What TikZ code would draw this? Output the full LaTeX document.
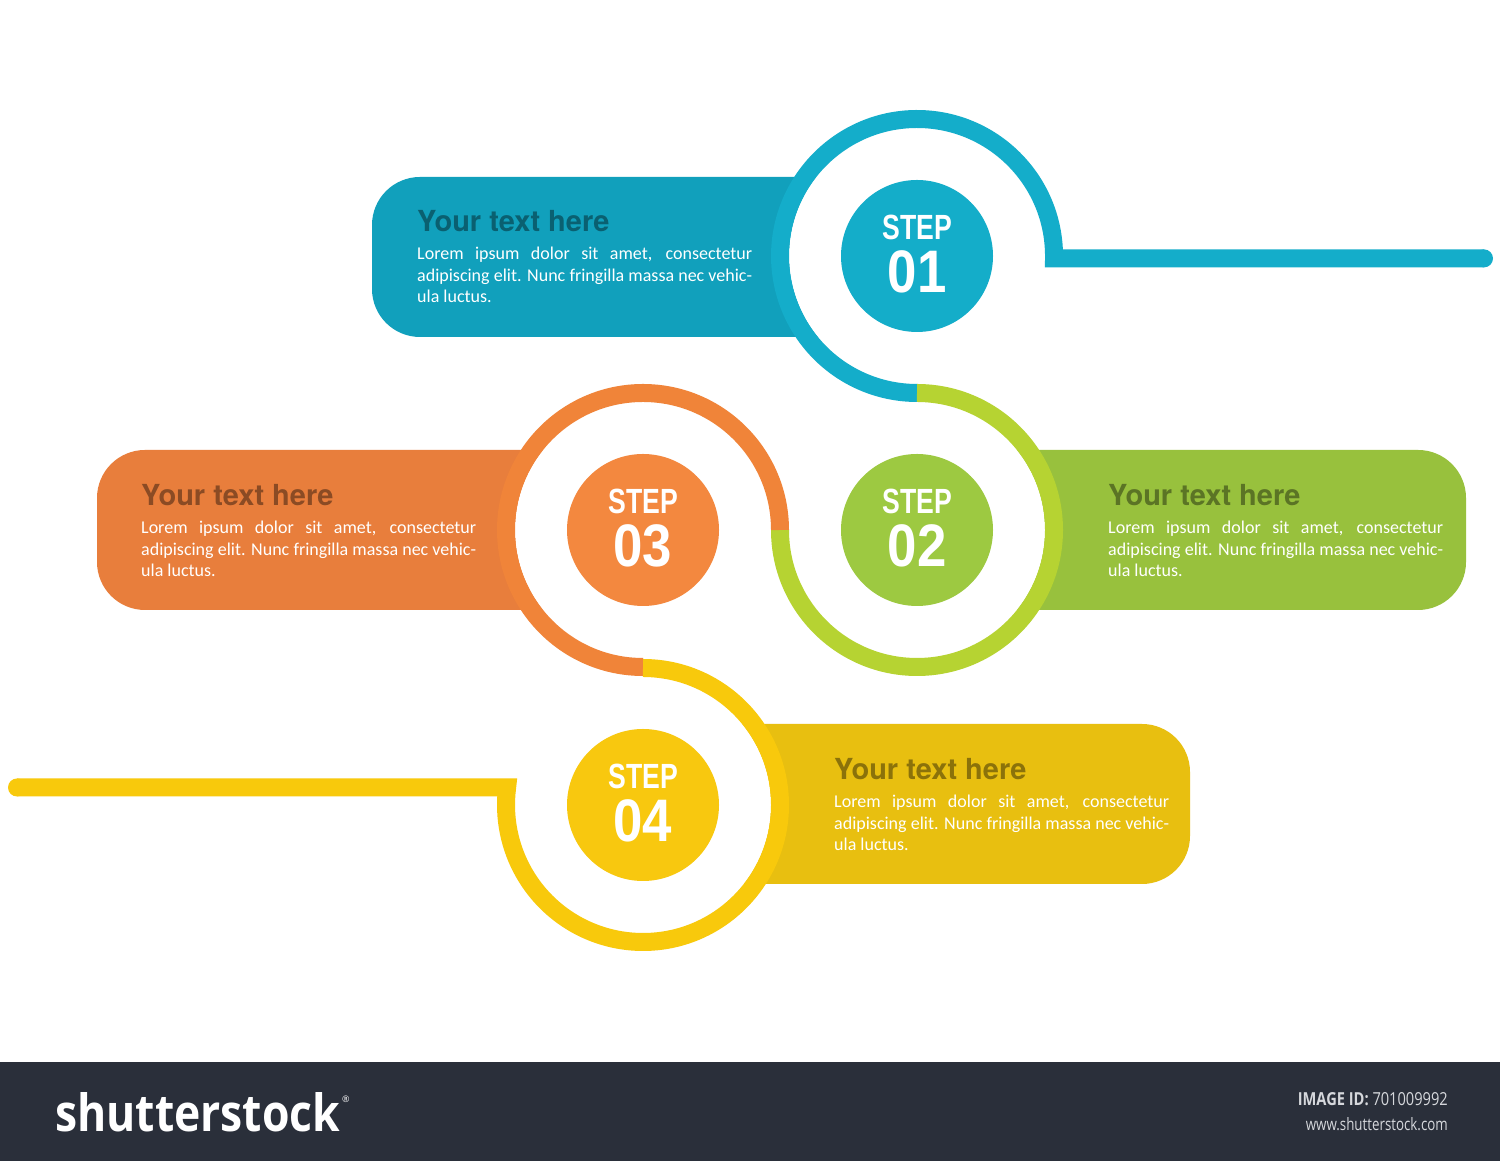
\documentclass[tikz,border=0pt]{standalone}
\usepackage{graphicx}
\usepackage{fontspec}
\setmainfont{Carlito}
\newfontfamily\titlefont{TeX Gyre Heros}
\newfontfamily\bodyfont{Carlito}
\newfontfamily\stepfont[FakeStretch=0.76]{Liberation Sans}
\newfontfamily\numfont[FakeStretch=0.88]{Liberation Sans}
\newfontfamily\barfont{Open Sans}
\definecolor{bluebox}{HTML}{11A0BC}
\definecolor{bluering}{HTML}{14ADCA}
\definecolor{bluein}{HTML}{14ADC9}
\definecolor{orangebox}{HTML}{E87E3C}
\definecolor{orangering}{HTML}{F08439}
\definecolor{orangein}{HTML}{F3883F}
\definecolor{greenbox}{HTML}{98C13D}
\definecolor{greenring}{HTML}{B6D332}
\definecolor{greenin}{HTML}{9DC941}
\definecolor{yellowbox}{HTML}{E8BF10}
\definecolor{yellowring}{HTML}{F8C90C}
\definecolor{yellowin}{HTML}{F8C80F}
\definecolor{barcol}{HTML}{2A2F3A}
\definecolor{idgray}{HTML}{D6D8DC}
\tikzset{
  infobox/.style={rounded corners=48pt},
  ring/.style={line width=18pt, line cap=butt, line join=miter},
  stepcircle/.style={circle, minimum size=152pt, inner sep=0pt},
  steplabel/.style={text=white, inner sep=0pt, font=\stepfont\bfseries\fontsize{35}{35}\selectfont},
  stepnum/.style={text=white, inner sep=0pt, font=\numfont\bfseries\fontsize{60}{60}\selectfont},
  titletext/.style={anchor=base west, inner sep=0pt, font=\titlefont\bfseries\fontsize{29}{29}\selectfont},
  bodytext/.style={anchor=base west, inner sep=0pt, text=white, font=\bodyfont\fontsize{18}{18}\selectfont},
}
\newcommand\infotext[4]{%
  \node[titletext, text=#4] (#1t) at (#2,#3) {Your text here};
  \node[bodytext] (#1a) at (#2,#3-28) {\makebox[335pt][s]{Lorem ipsum dolor sit amet, consectetur}};
  \node[bodytext] (#1b) at (#2,#3-49.5) {\makebox[335pt][s]{adipiscing elit. Nunc fringilla massa nec vehic-}};
  \node[bodytext] (#1c) at (#2,#3-71) {ula luctus.};
}
\begin{document}
\begin{tikzpicture}[x=1pt,y=1pt]
\useasboundingbox (0,0) rectangle (1500,1161);
\fill[white] (0,0) rectangle (1500,1161);
\coordinate (c1) at (917,905);
\coordinate (c2) at (917,631);
\coordinate (c3) at (643,631);
\coordinate (c4) at (643,356);
% text boxes
\fill[bluebox, infobox] (917,824) -- (372,824) -- (372,984) -- (917,984) -- cycle;
\fill[orangebox, infobox] (643,551) -- (97,551) -- (97,711) -- (643,711) -- cycle;
\fill[greenbox, infobox] (917,551) -- (1466,551) -- (1466,711) -- (917,711) -- cycle;
\fill[yellowbox, infobox] (643,277) -- (1190,277) -- (1190,437) -- (643,437) -- cycle;
% white interiors
\fill[white] (c1) circle (128pt);
\fill[white] (c2) circle (128pt);
\fill[white] (c3) circle (128pt);
\fill[white] (c4) circle (128pt);
% rings
\coordinate (bend) at (1484,902.6);
\coordinate (yend) at (17,373.5);
\draw[ring, bluering] (bend) -- (1054,902.6) arc[start angle=-1, end angle=270, radius=137pt];
\fill[bluering] (bend) circle (9pt);
\draw[ring, greenring] (917,768) arc[start angle=90, end angle=-180, radius=137pt];
\draw[ring, orangering] (780,631) arc[start angle=0, end angle=270, radius=137pt];
\draw[ring, yellowring] (643,493) arc[start angle=90, end angle=-187.34, radius=137pt] -- (yend);
\fill[yellowring] (yend) circle (9pt);
% step circles
\node[stepcircle, fill=bluein] (s1) at (c1) {};
\node[steplabel] (s1l) at (917,934) {STEP};
\node[stepnum] (s1n) at (917,889.5) {01};
\node[stepcircle, fill=greenin] (s2) at (c2) {};
\node[steplabel] (s2l) at (917,660) {STEP};
\node[stepnum] (s2n) at (917,615.5) {02};
\node[stepcircle, fill=orangein] (s3) at (c3) {};
\node[steplabel] (s3l) at (643,660) {STEP};
\node[stepnum] (s3n) at (643,615.5) {03};
\node[stepcircle, fill=yellowin] (s4) at (c4) {};
\node[steplabel] (s4l) at (643,385) {STEP};
\node[stepnum] (s4n) at (643,340.5) {04};
% texts
\infotext{b}{417}{929}{bluebox!60!black}
\infotext{o}{141}{655}{orangebox!60!black}
\infotext{g}{1108}{655}{greenbox!60!black}
\infotext{y}{834}{381}{yellowbox!60!black}
% bottom bar
\fill[barcol] (0,0) rectangle (1500,99);
\node[anchor=base west, inner sep=0pt, text=white, font=\barfont\bfseries] (logo) at (55,29) {\resizebox{285pt}{39pt}{shutterstock}};
\node[anchor=base west, inner sep=0pt, text=white, font=\barfont\fontsize{9}{9}\selectfont] (reg) at (342,58) {®};
\node[anchor=base east, inner sep=0pt, text=idgray, font=\barfont] (imgid) at (1448,55) {\resizebox{150pt}{13pt}{\textbf{IMAGE ID:} 701009992}};
\node[anchor=base east, inner sep=0pt, text=idgray, font=\barfont] (www) at (1448,30) {\resizebox{142pt}{13pt}{www.shutterstock.com}};
\end{tikzpicture}
\end{document}
